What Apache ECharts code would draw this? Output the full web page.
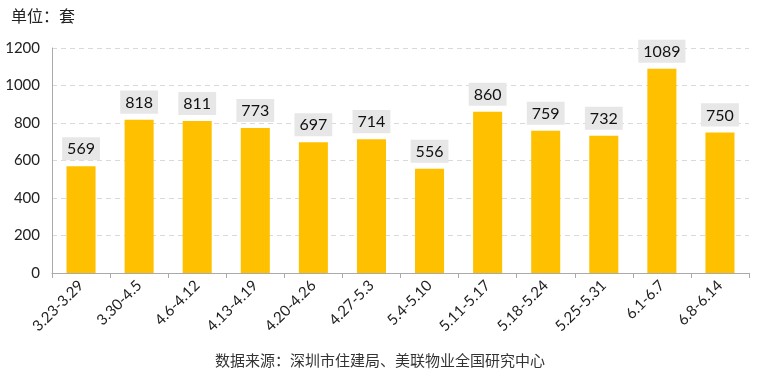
<!DOCTYPE html>
<html>
<head>
<meta charset="utf-8">
<script src="https://cdn.jsdelivr.net/npm/echarts@6/dist/echarts.min.js"></script>
<style>
  html, body { margin: 0; padding: 0; background: #fff; }
  #chart { width: 760px; height: 378px; }
</style>
</head>
<body>
<div id="chart"></div>
<script>
// 周度成交套数
const weeks = ['3.23-3.29', '3.30-4.5', '4.6-4.12', '4.13-4.19', '4.20-4.26', '4.27-5.3',
  '5.4-5.10', '5.11-5.17', '5.18-5.24', '5.25-5.31', '6.1-6.7', '6.8-6.14']
const units = [569, 818, 811, 773, 697, 714, 556, 860, 759, 732, 1089, 750]
const yTicks = [0, 200, 400, 600, 800, 1000, 1200]

let chart = echarts.init(document.getElementById('chart'))
let option = {
  animation: false,
  textStyle: { fontFamily: 'Lato, "Noto Sans CJK SC", sans-serif' },
  title: [
    {
      text: '单位：套',
      left: 6,
      top: 3,
      textStyle: { fontSize: 16, fontWeight: 'normal', color: '#222', fontFamily: '"Noto Sans CJK SC", sans-serif' }
    },
    {
      text: '数据来源：深圳市住建局、美联物业全国研究中心',
      left: 'center',
      bottom: 5,
      textStyle: { fontSize: 15, fontWeight: 'normal', color: '#333', fontFamily: '"Noto Sans CJK SC", sans-serif' }
    }
  ],
  grid: {
    left: 52,
    right: 11,
    top: 48,
    bottom: 105
  },
  xAxis: {
    type: 'category',
    data: weeks,
    axisLine: { lineStyle: { color: '#aaa', width: 1 } },
    axisTick: { show: true, lineStyle: { color: '#aaa' } },
    axisLabel: { rotate: 45, fontSize: 15, color: '#222', margin: 10 }
  },
  yAxis: {
    type: 'value',
    min: yTicks[0],
    max: yTicks[yTicks.length - 1],
    interval: 200,
    axisLine: { show: true, lineStyle: { color: '#aaa' } },
    axisTick: { show: false },
    axisLabel: { fontSize: 15, color: '#222', margin: 12, formatter: v => String(v) },
    splitLine: { lineStyle: { color: '#d9d9d9', type: [5, 4] } }
  },
  series: [
    {
      name: '成交套数',
      type: 'bar',
      data: units,
      barWidth: '50%',
      itemStyle: { color: '#ffc000' },
      label: {
        show: true,
        position: 'top',
        distance: 6,
        fontSize: 16,
        color: '#111',
        backgroundColor: '#e7e7e7',
        padding: [4, 5, 3, 5]
      }
    }
  ]
}
chart.setOption(option)
</script>
</body>
</html>
